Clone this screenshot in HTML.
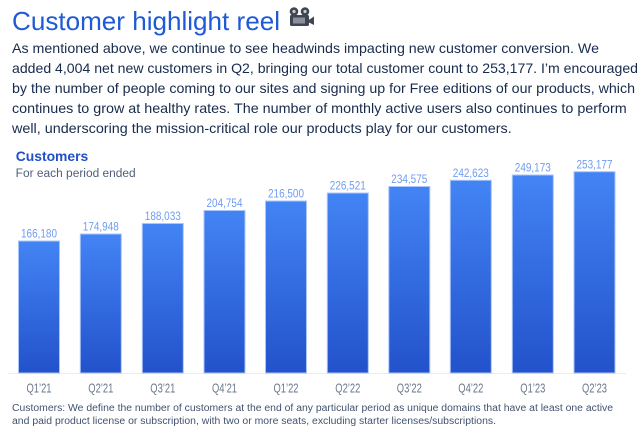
<!DOCTYPE html>
<html>
<head>
<meta charset="utf-8">
<style>
html,body{margin:0;padding:0;background:#fff;}
svg{display:block;font-family:"Liberation Sans",sans-serif;}
</style>
</head>
<body>
<svg width="640" height="435" viewBox="0 0 640 435" xmlns="http://www.w3.org/2000/svg">
<defs>
<linearGradient id="g" x1="0" y1="0" x2="0" y2="1">
<stop offset="0" stop-color="#4384f5"/>
<stop offset="1" stop-color="#2352cb"/>
</linearGradient>
</defs>
<!-- Title -->
<text x="12" y="30" font-size="26" fill="#1e5ad6" textLength="268" lengthAdjust="spacingAndGlyphs">Customer highlight reel</text>
<!-- camera icon -->
<g fill="#3f4551">
<circle cx="294" cy="11.5" r="4.3"/>
<circle cx="305" cy="11.5" r="4.3"/>
<rect x="290" y="15" width="19" height="11" rx="1.5"/>
<polygon points="308,20.5 314,16.5 314,25 308,22"/>
</g>
<circle cx="294" cy="11.5" r="1.6" fill="#c9ccd2"/>
<circle cx="305" cy="11.5" r="1.6" fill="#c9ccd2"/>
<rect x="293" y="17.5" width="12" height="6" fill="#8a909b"/>
<!-- Paragraph -->
<g font-size="14" fill="#172b4d">
<text x="12" y="53" textLength="587" lengthAdjust="spacingAndGlyphs">As mentioned above, we continue to see headwinds impacting new customer conversion. We</text>
<text x="12" y="73" textLength="626" lengthAdjust="spacingAndGlyphs">added 4,004 net new customers in Q2, bringing our total customer count to 253,177. I’m encouraged</text>
<text x="12" y="93" textLength="623" lengthAdjust="spacingAndGlyphs">by the number of people coming to our sites and signing up for Free editions of our products, which</text>
<text x="12" y="113" textLength="614.7" lengthAdjust="spacingAndGlyphs">continues to grow at healthy rates. The number of monthly active users also continues to perform</text>
<text x="12" y="133" textLength="499.7" lengthAdjust="spacingAndGlyphs">well, underscoring the mission-critical role our products play for our customers.</text>
</g>
<!-- Chart heading -->
<text x="15.7" y="161" font-size="14" font-weight="bold" fill="#1f4fc9" textLength="72.6" lengthAdjust="spacingAndGlyphs">Customers</text>
<text x="15.7" y="177" font-size="11.5" fill="#505f79" textLength="120" lengthAdjust="spacingAndGlyphs">For each period ended</text>
<!-- axis line -->
<line x1="8" y1="373.5" x2="626" y2="373.5" stroke="#ebecf0" stroke-width="1"/>
<!-- bars -->
<g stroke="#a9c5f9" stroke-width="1" fill="url(#g)">
<rect x="18.5" y="241" width="41" height="132"/>
<rect x="80.3" y="234" width="41" height="139"/>
<rect x="142.3" y="223.5" width="41" height="149.5"/>
<rect x="204" y="210.5" width="41" height="162.5"/>
<rect x="265.5" y="201" width="41" height="172"/>
<rect x="327.3" y="193" width="41" height="180"/>
<rect x="388.8" y="186.5" width="41" height="186.5"/>
<rect x="450.3" y="180.3" width="41" height="192.7"/>
<rect x="512.3" y="175" width="41" height="198"/>
<rect x="574" y="171.7" width="41" height="201.3"/>
</g>
<!-- value labels -->
<g font-size="12" fill="#6f9cf1" text-anchor="middle">
<text x="39" y="237.6" textLength="36" lengthAdjust="spacingAndGlyphs">166,180</text>
<text x="100.8" y="230.6" textLength="36" lengthAdjust="spacingAndGlyphs">174,948</text>
<text x="162.8" y="220.1" textLength="36" lengthAdjust="spacingAndGlyphs">188,033</text>
<text x="224.5" y="207.1" textLength="36" lengthAdjust="spacingAndGlyphs">204,754</text>
<text x="286" y="197.6" textLength="36" lengthAdjust="spacingAndGlyphs">216,500</text>
<text x="347.8" y="189.6" textLength="36" lengthAdjust="spacingAndGlyphs">226,521</text>
<text x="409.3" y="183.1" textLength="36" lengthAdjust="spacingAndGlyphs">234,575</text>
<text x="470.8" y="176.9" textLength="36" lengthAdjust="spacingAndGlyphs">242,623</text>
<text x="532.8" y="171.6" textLength="36" lengthAdjust="spacingAndGlyphs">249,173</text>
<text x="594.5" y="168.3" textLength="36" lengthAdjust="spacingAndGlyphs">253,177</text>
</g>
<!-- x labels -->
<g font-size="13" fill="#6b778c" text-anchor="middle">
<text x="39" y="392.3" textLength="25" lengthAdjust="spacingAndGlyphs">Q1’21</text>
<text x="100.8" y="392.3" textLength="25" lengthAdjust="spacingAndGlyphs">Q2’21</text>
<text x="162.8" y="392.3" textLength="25" lengthAdjust="spacingAndGlyphs">Q3’21</text>
<text x="224.5" y="392.3" textLength="25" lengthAdjust="spacingAndGlyphs">Q4’21</text>
<text x="286" y="392.3" textLength="25" lengthAdjust="spacingAndGlyphs">Q1’22</text>
<text x="347.8" y="392.3" textLength="25" lengthAdjust="spacingAndGlyphs">Q2’22</text>
<text x="409.3" y="392.3" textLength="25" lengthAdjust="spacingAndGlyphs">Q3’22</text>
<text x="470.8" y="392.3" textLength="25" lengthAdjust="spacingAndGlyphs">Q4’22</text>
<text x="532.8" y="392.3" textLength="25" lengthAdjust="spacingAndGlyphs">Q1’23</text>
<text x="594.5" y="392.3" textLength="25" lengthAdjust="spacingAndGlyphs">Q2’23</text>
</g>
<!-- footnote -->
<g font-size="10" fill="#42526e">
<text x="12" y="411" textLength="601" lengthAdjust="spacingAndGlyphs">Customers: We define the number of customers at the end of any particular period as unique domains that have at least one active</text>
<text x="12" y="424" textLength="484" lengthAdjust="spacingAndGlyphs">and paid product license or subscription, with two or more seats, excluding starter licenses/subscriptions.</text>
</g>
</svg>
</body>
</html>
